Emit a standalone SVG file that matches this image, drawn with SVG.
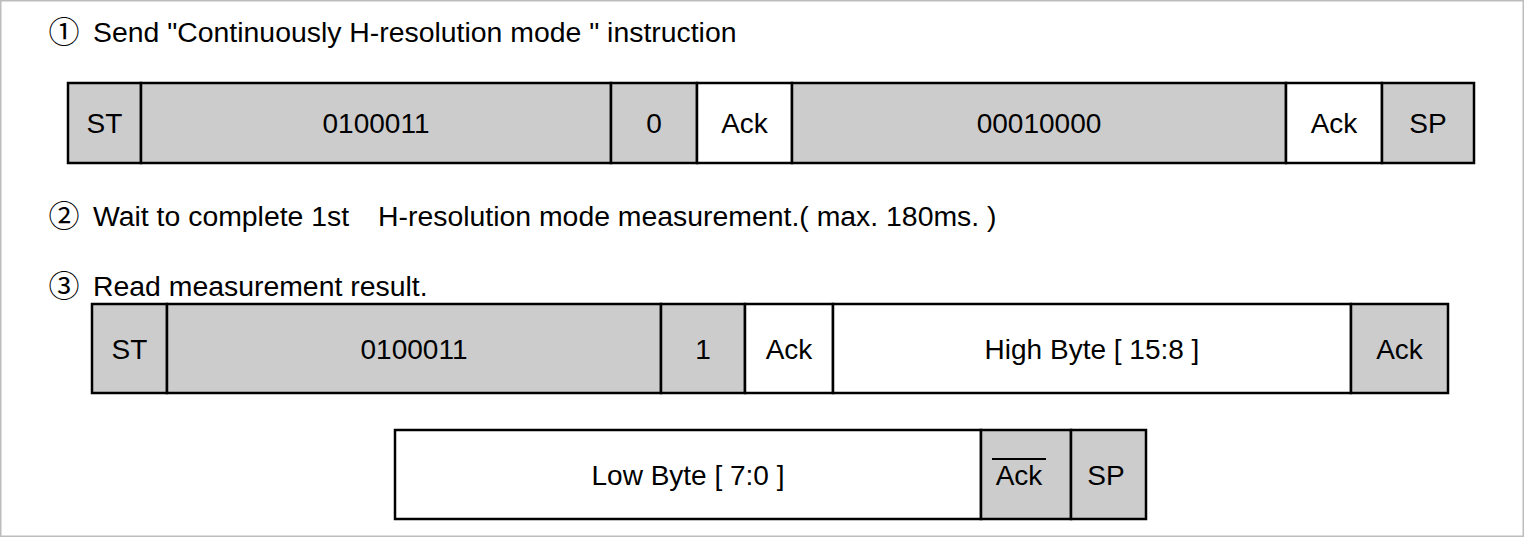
<svg xmlns="http://www.w3.org/2000/svg" width="1525" height="538" viewBox="0 0 1525 538">
<style>
.t{font-family:"Liberation Sans",Arial,sans-serif;font-size:28px;fill:#000}
.h{font-size:28.4px}
.c{text-anchor:middle}
.n{font-family:"Noto Sans CJK JP","DejaVu Sans",sans-serif;font-size:31px;text-anchor:middle;fill:#000}
.g{fill:#cccccc;stroke:#000;stroke-width:2.5}
.w{fill:#ffffff;stroke:#000;stroke-width:2.5}
</style>
<rect x="0.75" y="0.75" width="1522.5" height="535.5" fill="#fff" stroke="#bdbdbd" stroke-width="1.5"/>
<g id="step1">
<text class="n" x="64" y="43">①</text>
<text class="t h" x="93" y="42">Send "Continuously H-resolution mode " instruction</text>
</g>
<g id="row1">
<g id="r1-st"><rect class="g" x="68" y="83" width="73" height="80"/><text class="t c" x="104.5" y="133">ST</text></g>
<g id="r1-addr"><rect class="g" x="141" y="83" width="470" height="80"/><text class="t c" x="376" y="133">0100011</text></g>
<g id="r1-rw"><rect class="g" x="611" y="83" width="86" height="80"/><text class="t c" x="654" y="133">0</text></g>
<g id="r1-ack1"><rect class="w" x="697" y="83" width="95" height="80"/><text class="t c" x="744.5" y="133">Ack</text></g>
<g id="r1-data"><rect class="g" x="792" y="83" width="494" height="80"/><text class="t c" x="1039" y="133">00010000</text></g>
<g id="r1-ack2"><rect class="w" x="1286" y="83" width="96" height="80"/><text class="t c" x="1334" y="133">Ack</text></g>
<g id="r1-sp"><rect class="g" x="1382" y="83" width="92" height="80"/><text class="t c" x="1428" y="133">SP</text></g>
</g>
<g id="step2">
<text class="n" x="64" y="227">②</text>
<text class="t h" x="93" y="226">Wait to complete 1st<tspan x="378">H-resolution mode measurement.( max. 180ms. )</tspan></text>
</g>
<g id="step3">
<text class="n" x="64" y="297">③</text>
<text class="t h" x="93" y="296">Read measurement result.</text>
</g>
<g id="row3">
<g id="r3-st"><rect class="g" x="92" y="304" width="75" height="89"/><text class="t c" x="129.5" y="358.5">ST</text></g>
<g id="r3-addr"><rect class="g" x="167" y="304" width="494" height="89"/><text class="t c" x="414" y="358.5">0100011</text></g>
<g id="r3-rw"><rect class="g" x="661" y="304" width="84" height="89"/><text class="t c" x="703" y="358.5">1</text></g>
<g id="r3-ack1"><rect class="w" x="745" y="304" width="88" height="89"/><text class="t c" x="789" y="358.5">Ack</text></g>
<g id="r3-high"><rect class="w" x="833" y="304" width="518" height="89"/><text class="t c" x="1092" y="358.5">High Byte [ 15:8 ]</text></g>
<g id="r3-ack2"><rect class="g" x="1351" y="304" width="97" height="89"/><text class="t c" x="1399.5" y="358.5">Ack</text></g>
</g>
<g id="row4">
<g id="r4-low"><rect class="w" x="395" y="430" width="586" height="89"/><text class="t c" x="688" y="485">Low Byte [ 7:0 ]</text></g>
<g id="r4-nack"><rect class="g" x="981" y="430" width="90" height="89"/><text class="t c" x="1019" y="485">Ack</text><line x1="992" y1="459" x2="1046" y2="459" stroke="#000" stroke-width="2"/></g>
<g id="r4-sp"><rect class="g" x="1071" y="430" width="75" height="89"/><text class="t c" x="1106" y="485">SP</text></g>
</g>
<g id="connectors"></g>
</svg>
